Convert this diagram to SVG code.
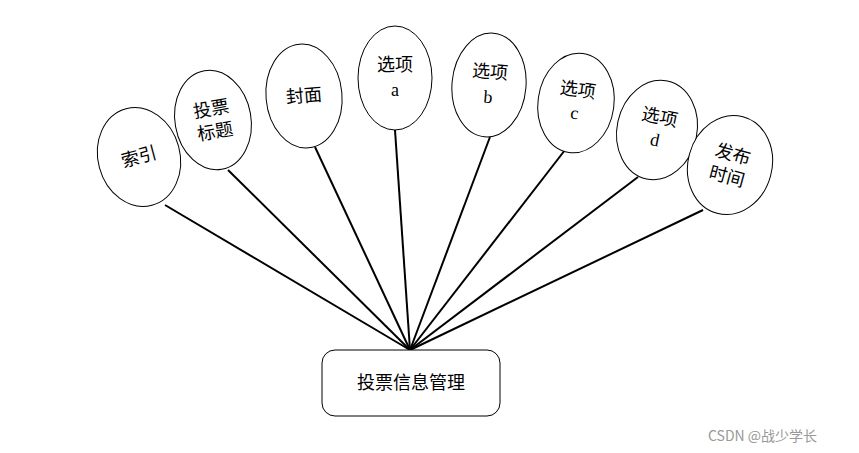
<svg xmlns="http://www.w3.org/2000/svg" width="859" height="453" viewBox="0 0 859 453">
<style>
.n{fill:#fff;stroke:#000;stroke-width:1}
.t{font-family:"Liberation Serif","Noto Sans CJK SC",serif;font-size:18px;text-anchor:middle;fill:#000}
.c{stroke:#000;stroke-width:2;fill:none}
</style>
<rect width="859" height="453" fill="#fff"/>
<g id="connectors">
<line class="c" x1="165" y1="205" x2="410" y2="350"/>
<line class="c" x1="228" y1="170" x2="410" y2="350"/>
<line class="c" x1="315" y1="147" x2="410" y2="350"/>
<line class="c" x1="395" y1="130" x2="410" y2="350"/>
<line class="c" x1="490" y1="137" x2="410" y2="350"/>
<line class="c" x1="565" y1="150" x2="410" y2="350"/>
<line class="c" x1="638" y1="177" x2="410" y2="350"/>
<line class="c" x1="703" y1="210" x2="410" y2="350"/>
</g>
<g id="n1" transform="translate(139,157) rotate(-15)"><ellipse class="n" rx="41" ry="50"/><text class="t" y="6">索引</text></g>
<g id="n2" transform="translate(213,120) rotate(-10)"><ellipse class="n" rx="38" ry="50"/><text class="t" y="-5">投票</text><text class="t" y="18">标题</text></g>
<g id="n3" transform="translate(304,96) rotate(-5)"><ellipse class="n" rx="38" ry="52"/><text class="t" y="6">封面</text></g>
<g id="n4" transform="translate(395,78)"><ellipse class="n" rx="37" ry="52"/><text class="t" y="-7">选项</text><text class="t" y="18">a</text></g>
<g id="n5" transform="translate(489,85) rotate(5)"><ellipse class="n" rx="37" ry="52"/><text class="t" y="-7">选项</text><text class="t" y="18">b</text></g>
<g id="n6" transform="translate(576,103) rotate(8)"><ellipse class="n" rx="38" ry="50"/><text class="t" y="-7">选项</text><text class="t" y="16">c</text></g>
<g id="n7" transform="translate(657,130) rotate(12)"><ellipse class="n" rx="40" ry="50"/><text class="t" y="-7">选项</text><text class="t" y="16">d</text></g>
<g id="n8" transform="translate(730,165) rotate(15)"><ellipse class="n" rx="42" ry="50"/><text class="t" y="-5">发布</text><text class="t" y="18">时间</text></g>
<g id="main"><rect class="n" x="322" y="350" width="178" height="66" rx="13"/><text class="t" x="411" y="389">投票信息管理</text></g>
<text x="708" y="441" style="font-family:'Noto Sans CJK SC',sans-serif;font-size:14px;fill:#999">CSDN @战少学长</text>
</svg>
